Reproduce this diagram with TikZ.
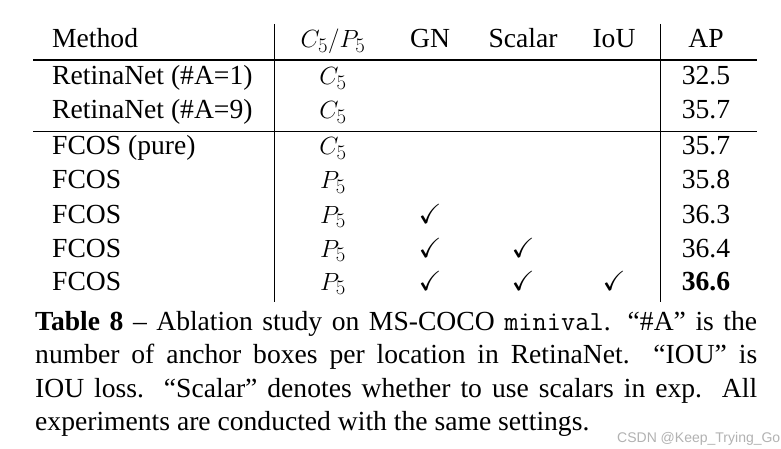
\documentclass[tikz,border=0pt]{standalone}
\usepackage{amssymb}
\usepackage{fontspec}
\setmainfont{Liberation Serif}
\newfontfamily\wm{Liberation Sans}
\begin{document}
\begin{tikzpicture}[x=1pt,y=-1pt,
  t/.style={anchor=base,inner sep=0pt,font=\fontsize{27.6}{31}\selectfont},
  tl/.style={t,anchor=base west},
  rule/.style={line width=1.1pt},
  vrule/.style={line width=0.9pt}]
\useasboundingbox (0,0) rectangle (781,449);
\fill[white] (0,0) rectangle (781,449);
\coordinate (h1) at (33,60); \coordinate (h2) at (757,60);
\coordinate (m1) at (33,131); \coordinate (m2) at (757,131);
\coordinate (v1a) at (274,24); \coordinate (v1b) at (274,302);
\coordinate (v2a) at (660,24); \coordinate (v2b) at (660,302);
\draw[rule] (h1) -- (h2);
\draw[vrule] (m1) -- (m2);
\draw[vrule] (v1a) -- (v1b);
\draw[vrule] (v2a) -- (v2b);
% header
\node[tl] (hm) at (52,48) {Method};
\node[t] (hc) at (333,48) {$C_5/P_5$};
\node[t] (hg) at (430,48) {GN};
\node[t] (hs) at (523,48) {Scalar};
\node[t] (hi) at (614,48) {IoU};
\node[t] (ha) at (706,48) {AP};
% rows
\node[tl] (r1m) at (52,85) {RetinaNet (\#A=1)}; \node[t] (r1c) at (333,85) {$C_5$}; \node[t] (r1a) at (706,85) {32.5};
\node[tl] (r2m) at (52,119) {RetinaNet (\#A=9)}; \node[t] (r2c) at (333,119) {$C_5$}; \node[t] (r2a) at (706,119) {35.7};
\node[tl] (r3m) at (52,155) {FCOS (pure)}; \node[t] (r3c) at (333,155) {$C_5$}; \node[t] (r3a) at (706,155) {35.7};
\node[tl] (r4m) at (52,189) {FCOS}; \node[t] (r4c) at (333,189) {$P_5$}; \node[t] (r4a) at (706,189) {35.8};
\node[tl] (r5m) at (52,223) {FCOS}; \node[t] (r5c) at (333,223) {$P_5$}; \node[t] (r5g) at (430,223) {$\checkmark$}; \node[t] (r5a) at (706,223) {36.3};
\node[tl] (r6m) at (52,257) {FCOS}; \node[t] (r6c) at (333,257) {$P_5$}; \node[t] (r6g) at (430,257) {$\checkmark$}; \node[t] (r6s) at (523,257) {$\checkmark$}; \node[t] (r6a) at (706,257) {36.4};
\node[tl] (r7m) at (52,290) {FCOS}; \node[t] (r7c) at (333,290) {$P_5$}; \node[t] (r7g) at (430,290) {$\checkmark$}; \node[t] (r7s) at (523,290) {$\checkmark$}; \node[t] (r7i) at (614,290) {$\checkmark$}; \node[t] (r7a) at (706,290) {\textbf{36.6}};
% caption
\node[tl] (c1) at (35,330) {\hbox to 722pt{\textbf{Table 8} -- Ablation study on MS-COCO \texttt{minival}. ``\#A'' is the}};
\node[tl] (c2) at (35,363) {\hbox to 722pt{number of anchor boxes per location in RetinaNet.\ \ ``IOU'' is}};
\node[tl] (c3) at (35,397) {\hbox to 722pt{IOU loss.\ \ ``Scalar'' denotes whether to use scalars in exp.\ \ All}};
\node[tl] (c4) at (35,430) {experiments are conducted with the same settings.};
\node[anchor=base west,inner sep=0pt,text=gray!60,font=\wm\fontsize{14}{16}\selectfont] (wm) at (617,442) {CSDN @Keep\_Trying\_Go};
\end{tikzpicture}
\end{document}
